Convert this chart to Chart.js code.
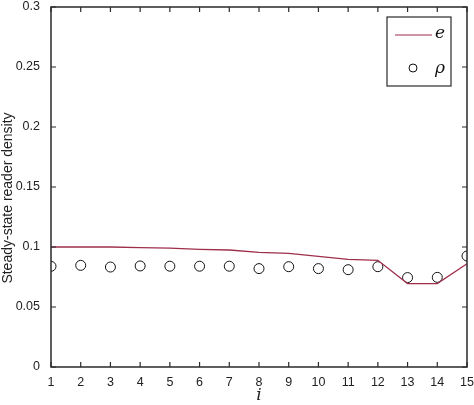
<!DOCTYPE html>
<html><head><meta charset="utf-8">
<script src="https://cdn.jsdelivr.net/npm/chart.js@4"></script>
<style>html,body{margin:0;padding:0;background:#fff}#w{width:474px;height:405px}</style>
</head><body><div id="w"><canvas id="c" width="474" height="405"></canvas></div>
<script>
const nodes = [1,2,3,4,5,6,7,8,9,10,11,12,13,14,15];
const eValues = [0.1,0.1,0.1,0.0995,0.099,0.098,0.0975,0.0956,0.0947,0.0922,0.0897,0.0889,0.0695,0.0695,0.086];
const rhoValues = [0.0839,0.0847,0.0833,0.0842,0.084,0.084,0.084,0.082,0.0836,0.082,0.0811,0.0836,0.0745,0.0747,0.0925];
const yTicks = [0,0.05,0.1,0.15,0.2,0.25,0.3];
const legendLabels = ['e','\u03C1'];
const xTitle = 'i';
const yTitle = 'Steady-state reader density';
const lineColor = '#9e2f4c';

const framePlugin = {
  id:'frame',
  afterDraw(chart){
    const {ctx, chartArea:a, scales:{x,y}} = chart;
    ctx.save();
    ctx.strokeStyle='#2a2a2a'; ctx.lineWidth=1.5;
    ctx.strokeRect(a.left,a.top,a.right-a.left,a.bottom-a.top);
    ctx.lineWidth=1.2;
    const tl=5;
    nodes.forEach(v=>{const px=x.getPixelForValue(v);
      ctx.beginPath();ctx.moveTo(px,a.bottom);ctx.lineTo(px,a.bottom-tl);ctx.moveTo(px,a.top);ctx.lineTo(px,a.top+tl);ctx.stroke();});
    yTicks.forEach(v=>{const py=y.getPixelForValue(v);
      ctx.beginPath();ctx.moveTo(a.left,py);ctx.lineTo(a.left+tl,py);ctx.moveTo(a.right,py);ctx.lineTo(a.right-tl,py);ctx.stroke();});
    // titles
    ctx.fillStyle='#222';
    ctx.textAlign='center'; ctx.textBaseline='middle';
    ctx.font='italic 17px "DejaVu Serif", "Liberation Serif", serif';
    ctx.fillText(xTitle,(a.left+a.right)/2,396);
    ctx.save();
    ctx.translate(8,198);
    ctx.rotate(-Math.PI/2);
    ctx.font='14px "Liberation Sans", Arial, sans-serif';
    ctx.fillText(yTitle,0,0);
    ctx.restore();
    // legend
    const bx=387, by=17, bw=64, bh=69;
    ctx.fillStyle='#fff'; ctx.fillRect(bx,by,bw,bh);
    ctx.strokeStyle='#2a2a2a'; ctx.lineWidth=1.2; ctx.strokeRect(bx,by,bw,bh);
    ctx.strokeStyle=lineColor; ctx.lineWidth=1.2;
    ctx.beginPath(); ctx.moveTo(395,35); ctx.lineTo(432,35); ctx.stroke();
    ctx.strokeStyle='#111'; ctx.lineWidth=1;
    ctx.beginPath(); ctx.arc(413,68,4,0,Math.PI*2); ctx.stroke();
    ctx.fillStyle='#111'; ctx.font='italic 17px "DejaVu Serif", "Liberation Serif", serif';
    ctx.textBaseline='middle'; ctx.textAlign='left';
    ctx.fillText(legendLabels[0],435,34);
    ctx.fillText(legendLabels[1],435,69);
    ctx.restore();
  }
};

new Chart(document.getElementById('c'),{
  type:'scatter',
  data:{datasets:[
    {label:'e', type:'line', data:nodes.map((n,i)=>({x:n,y:eValues[i]})), borderColor:lineColor, borderWidth:1.3, pointRadius:0, fill:false, tension:0},
    {label:'rho', data:nodes.map((n,i)=>({x:n,y:rhoValues[i]})), pointRadius:5, pointBorderWidth:1, borderColor:'#111', backgroundColor:'rgba(0,0,0,0)', pointStyle:'circle'}
  ]},
  options:{
    responsive:false, animation:false, devicePixelRatio:1,
    layout:{padding:{top:7,right:7,left:0,bottom:0}},
    plugins:{legend:{display:false},tooltip:{enabled:false}},
    scales:{
      x:{type:'linear',min:1,max:15,
        afterBuildTicks(s){s.ticks=nodes.map(v=>({value:v}));},
        grid:{display:false,drawTicks:false}, border:{display:false},
        ticks:{padding:8,color:'#222',font:{family:'"Liberation Sans", Arial, sans-serif',size:12.5},maxRotation:0,autoSkip:false},
        afterFit(s){s.height=38;s.paddingLeft=0;s.paddingRight=0;}
      },
      y:{min:0,max:0.3,
        afterBuildTicks(s){s.ticks=yTicks.map(v=>({value:v}));},
        grid:{display:false,drawTicks:false}, border:{display:false},
        ticks:{padding:11,color:'#222',font:{family:'"Liberation Sans", Arial, sans-serif',size:12.5},callback:v=>String(v)},
        afterFit(s){s.width=51;s.paddingTop=0;s.paddingBottom=0;}
      }
    }
  },
  plugins:[framePlugin]
});
</script></body></html>
